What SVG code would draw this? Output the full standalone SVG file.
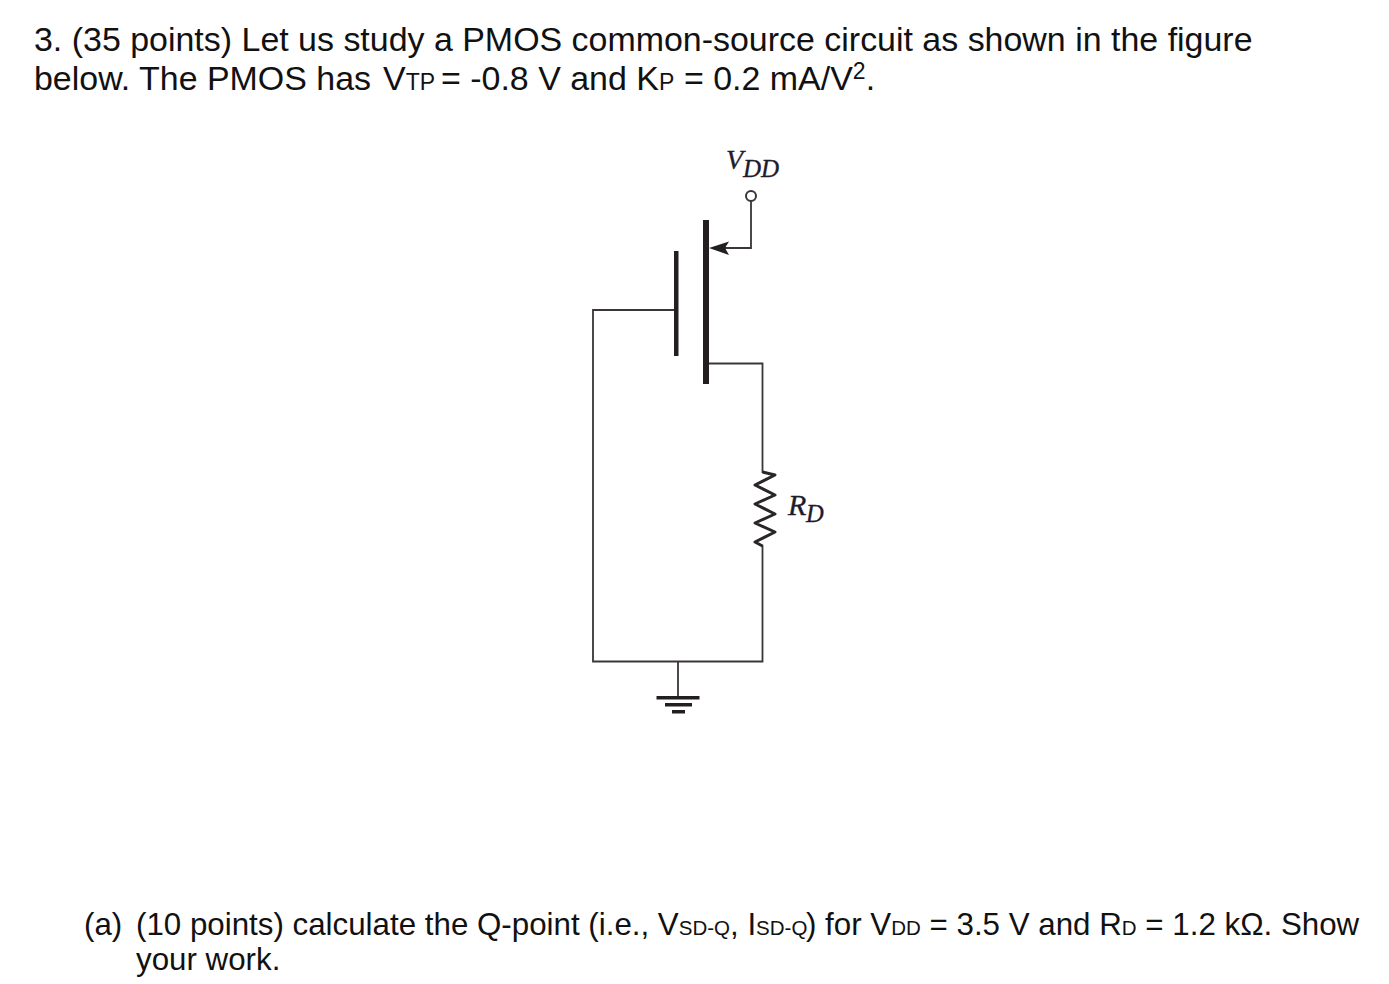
<svg xmlns="http://www.w3.org/2000/svg" width="1389" height="984" viewBox="0 0 1389 984">
<style>
.t{font-family:"Liberation Sans",Arial,sans-serif;font-size:33.95px;fill:#111}
.a{font-family:"Liberation Sans",Arial,sans-serif;font-size:31.3px;fill:#111}
.s{font-size:23px}
.r{font-size:20.5px}
.m{font-family:"Liberation Serif","Times New Roman",serif;font-style:italic;fill:#1c1c2c;stroke:#1c1c2c;stroke-width:.35}
.w{fill:none;stroke:#3a3636;stroke-width:1.8}
.b{fill:#231f20}
</style>
<rect width="1389" height="984" fill="#fff"/>
<g id="question">
<text class="t" x="34" y="50.5">3. (35 points) Let us study a PMOS common-source circuit as shown in the figure</text>
<text class="t" x="34" y="90">below. The PMOS has <tspan x="383">V</tspan><tspan class="s">TP</tspan><tspan x="441">= -0.8 V and K</tspan><tspan class="s">P</tspan><tspan x="684">= 0.2 mA/V</tspan><tspan class="s" dy="-11">2</tspan><tspan dy="11">.</tspan></text>
</g>
<g id="connectors">
<path class="w" d="M751 201V248H722"/>
<path class="w" d="M676 310H593V661.5H762.5V545"/>
<path class="w" d="M708 363.5H762.5V473"/>
<path class="w" d="M678 661V696"/>
<path fill="none" stroke="#2a2626" stroke-width="3" stroke-linejoin="round" d="M762.5 472L775 475L755 485L775 495L755 504L775 514L755 523L775 532L755 542L762.5 546"/>
</g>
<g id="pmos">
<rect class="b" x="674" y="251" width="4.5" height="105"/>
<rect class="b" x="703" y="220" width="6" height="164"/>
<path class="b" d="M709 248L729 241.5L725 248L729 255Z"/>
</g>
<g id="vdd">
<circle cx="751" cy="196" r="5" fill="#fff" stroke="#3a3636" stroke-width="2"/>
<text class="m" x="726" y="169" font-size="28">V</text>
<text class="m" x="743" y="177" font-size="25">DD</text>
</g>
<g id="rd">
<text class="m" x="788" y="515" font-size="30">R</text>
<text class="m" x="806" y="522" font-size="24.5">D</text>
</g>
<g id="ground">
<rect class="b" x="656.500" y="696" width="43" height="3.5"/>
<rect class="b" x="665" y="703" width="27" height="3.5"/>
<rect class="b" x="672" y="710" width="13" height="3.5"/>
</g>
<g id="part-a">
<text class="a" x="84" y="935">(a)</text>
<text class="a" x="136" y="935">(10 points) calculate the Q-point (i.e., V<tspan class="r">SD-Q</tspan>, I<tspan class="r">SD-Q</tspan><tspan x="806">) for V</tspan><tspan class="r">DD</tspan> = 3.5 V and R<tspan class="r">D</tspan> = 1.2 kΩ. Show</text>
<text class="a" x="136" y="970">your work.</text>
</g>
</svg>
